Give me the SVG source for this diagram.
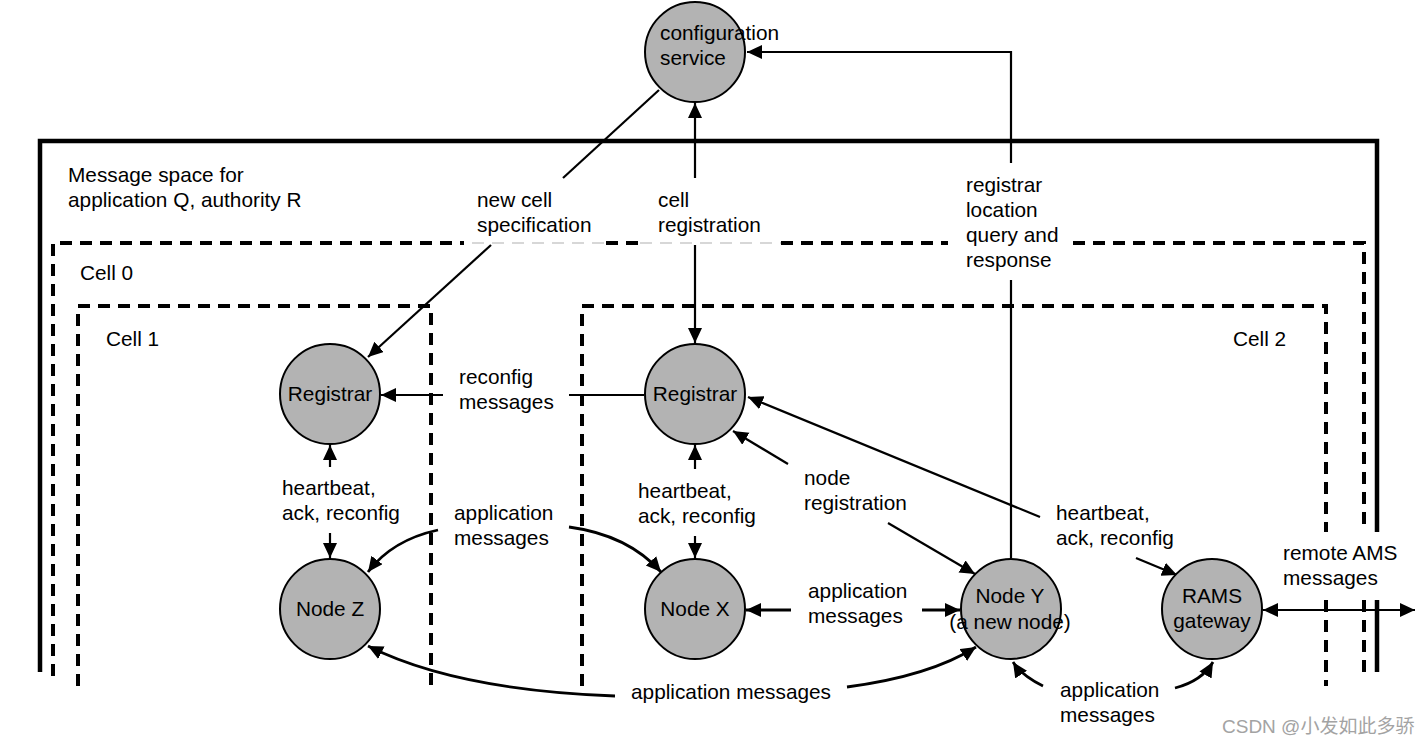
<svg xmlns="http://www.w3.org/2000/svg" width="1427" height="746" viewBox="0 0 1427 746">
<style>
text{font-family:"Liberation Sans",Arial,sans-serif;font-size:20.8px;fill:#000}
.c{text-anchor:middle}
.node circle{fill:#b3b3b3;stroke:#000;stroke-width:2}
.outer{fill:none;stroke:#000;stroke-width:4.5}
.dash{fill:none;stroke:#000;stroke-width:4;stroke-dasharray:12 8}
.faint{fill:none;stroke:#b0b0b0;stroke-width:1.2;stroke-dasharray:12 8}
.ln{fill:none;stroke:#000;stroke-width:2.2}
.cv{fill:none;stroke:#000;stroke-width:2.8}
.arr{marker-end:url(#ah)}
.arr2{marker-start:url(#ah);marker-end:url(#ah)}
.wm{font-size:19px;fill:#a3a3a3;font-family:"Liberation Sans","Noto Sans CJK SC",sans-serif}
</style>
<defs>
<marker id="ah" markerUnits="userSpaceOnUse" markerWidth="18" markerHeight="16" refX="15" refY="7" orient="auto-start-reverse">
<path d="M0,0 L15,7 L0,14 z" fill="#000"/>
</marker>
</defs>
<rect width="1427" height="746" fill="#fff"/>

<g id="boundaries">
<path class="outer" d="M40,672 V141 H1377 V532"/>
<path class="outer" d="M1377,600 V672"/>
<path class="dash" d="M53,676 V243 H464"/>
<path class="faint" d="M472,243 H606"/>
<path class="dash" d="M606,243 H640"/>
<path class="faint" d="M640,243 H781"/>
<path class="dash" d="M781,243 H948"/>
<path class="dash" d="M1073,243 H1364 V532"/>
<path class="dash" d="M1364,600 V676"/>
<path class="dash" d="M78,686 V306 H431 V686"/>
<path class="dash" d="M582,686 V306 H1326 V532"/>
<path class="dash" d="M1326,600 V686"/>
</g>

<g id="connectors">
<path class="ln" d="M659,90 L563,178"/>
<path class="ln arr" d="M491,245 L368,357"/>
<path class="ln arr" d="M695,178 V103"/>
<path class="ln arr" d="M695,245 V343"/>
<path class="ln" d="M1011,558 V280"/>
<path class="ln arr" d="M1011,163 V52 H747"/>
<path class="ln" d="M644,395 H569"/>
<path class="ln arr" d="M443,395 H381"/>
<path class="ln arr" d="M330,467 V445"/>
<path class="ln arr" d="M330,533 V558"/>
<path class="ln arr" d="M695,469 V445"/>
<path class="ln arr" d="M695,536 V558"/>
<path class="cv arr" d="M438,530 Q392,540 368,572"/>
<path class="cv arr" d="M569,527 Q628,535 661,572"/>
<path class="cv arr" d="M791,610 H746"/>
<path class="cv arr" d="M922,610 H960"/>
<path class="ln arr" d="M788,464 L733,431"/>
<path class="ln arr" d="M888,523 L975,574"/>
<path class="ln arr" d="M1040,517 L748,397"/>
<path class="ln arr" d="M1136,558 L1177,575"/>
<path class="ln arr2" d="M1263,610 H1415"/>
<path class="cv arr" d="M615,696 Q455,690 368,646"/>
<path class="cv arr" d="M847,687 Q930,676 976,647"/>
<path class="cv arr" d="M1043,686 Q1022,676 1013,662"/>
<path class="cv arr" d="M1175,688 Q1202,681 1213,662"/>
</g>

<g id="config-service" class="node">
<circle cx="695" cy="52" r="50"/>
<text x="660" y="40">configuration</text>
<text x="660" y="65">service</text>
</g>
<g id="registrar-1" class="node">
<circle cx="330" cy="394" r="50"/>
<text class="c" x="330" y="401">Registrar</text>
</g>
<g id="node-z" class="node">
<circle cx="330" cy="609" r="50"/>
<text class="c" x="330" y="616">Node Z</text>
</g>
<g id="registrar-2" class="node">
<circle cx="695" cy="394" r="50"/>
<text class="c" x="695" y="401">Registrar</text>
</g>
<g id="node-x" class="node">
<circle cx="695" cy="609" r="50"/>
<text class="c" x="695" y="616">Node X</text>
</g>
<g id="node-y" class="node">
<circle cx="1011" cy="609" r="50"/>
<text class="c" x="1010" y="603">Node Y</text>
<text class="c" x="1010" y="629">(a new node)</text>
</g>
<g id="rams-gateway" class="node">
<circle cx="1212" cy="609" r="50"/>
<text class="c" x="1212" y="603">RAMS</text>
<text class="c" x="1212" y="628">gateway</text>
</g>

<g id="labels">
<text x="68" y="182">Message space for</text>
<text x="68" y="207">application Q, authority R</text>
<text x="80" y="280">Cell 0</text>
<text x="106" y="346">Cell 1</text>
<text x="1233" y="346">Cell 2</text>
<text x="477" y="207">new cell</text>
<text x="477" y="232">specification</text>
<text x="658" y="207">cell</text>
<text x="658" y="232">registration</text>
<text x="966" y="192">registrar</text>
<text x="966" y="217">location</text>
<text x="966" y="242">query and</text>
<text x="966" y="267">response</text>
<text x="459" y="384">reconfig</text>
<text x="459" y="409">messages</text>
<text x="282" y="495">heartbeat,</text>
<text x="282" y="520">ack, reconfig</text>
<text x="454" y="520">application</text>
<text x="454" y="545">messages</text>
<text x="638" y="498">heartbeat,</text>
<text x="638" y="523">ack, reconfig</text>
<text x="804" y="485">node</text>
<text x="804" y="510">registration</text>
<text x="808" y="598">application</text>
<text x="808" y="623">messages</text>
<text x="1056" y="520">heartbeat,</text>
<text x="1056" y="545">ack, reconfig</text>
<text x="1283" y="560">remote AMS</text>
<text x="1283" y="585">messages</text>
<text x="631" y="699">application messages</text>
<text x="1060" y="697">application</text>
<text x="1060" y="722">messages</text>
<text class="wm" x="1222" y="733">CSDN @小发如此多骄</text>
</g>
</svg>
